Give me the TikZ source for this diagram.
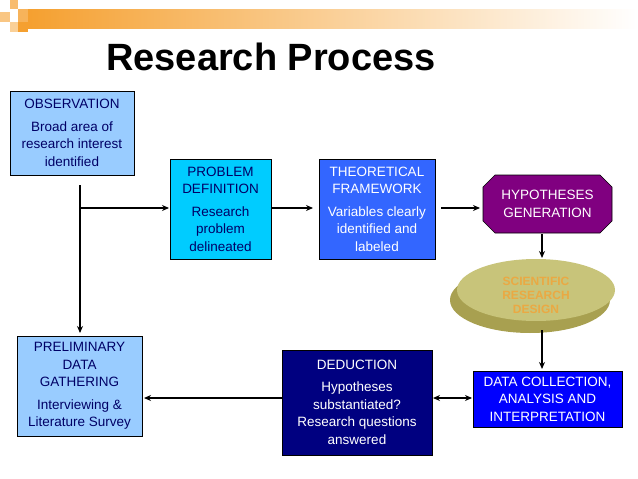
\documentclass[tikz,border=0pt]{standalone}
\usepackage{fontspec}
\setmainfont{Liberation Sans}
\usetikzlibrary{shapes.misc,arrows.meta}
\definecolor{lb}{HTML}{99CCFF}
\definecolor{cy}{HTML}{00CCFF}
\definecolor{tb}{HTML}{3366FF}
\definecolor{pu}{HTML}{800080}
\definecolor{nv}{HTML}{000080}
\definecolor{bl}{HTML}{0000FF}
\definecolor{dk}{HTML}{000066}
\definecolor{og}{HTML}{F5A030}
\definecolor{ol}{HTML}{C8C47A}
\definecolor{old}{HTML}{A8A050}
\begin{document}
\begin{tikzpicture}[x=1pt,y=-1pt,
 box/.style={draw=black,line width=0.6pt},
 txt/.style={align=center,font=\fontsize{13.5}{17.5}\selectfont,inner sep=0pt},
 arr/.style={line width=1.6pt,-{Stealth[length=7pt,width=6pt]}}]
\useasboundingbox (0,0) rectangle (638,479);
\fill[white] (0,0) rectangle (638,479);
% decoration
\shade[left color=og,right color=white] (28,9) rectangle (638,28);
\fill[og!60] (0,12) rectangle (10,22);
\fill[og!70] (10,0) rectangle (18,9);
\fill[og] (18,22) rectangle (28,32);
\fill[og!50] (10,22) rectangle (18,32);
\fill[og!80] (18,9) rectangle (28,22);
\node[font=\fontsize{38}{42}\selectfont\bfseries] (title) at (271,57) {Research Process};
% boxes
\path[box,fill=lb] (10,91) rectangle (134,175);
\node[txt,text=dk] (obs) at (72,133) {OBSERVATION\\[5pt]Broad area of\\research interest\\identified};
\path[box,fill=cy] (170,159) rectangle (271,259);
\node[txt,text=dk] (prob) at (220.5,209) {PROBLEM\\DEFINITION\\[5pt]Research\\problem\\delineated};
\path[box,fill=tb] (319,159) rectangle (435,259);
\node[txt,text=white] (theo) at (377,209) {THEORETICAL\\FRAMEWORK\\[5pt]Variables clearly\\identified and\\labeled};
\draw[fill=pu,line width=0.6pt] (495,175) -- (600,175) -- (612,187) -- (612,221) -- (600,233) -- (495,233) -- (483,221) -- (483,187) -- cycle;
\node[txt,text=white] (hyp) at (547.5,204) {HYPOTHESES\\GENERATION};
% ellipse
\fill[old] (530,300) ellipse (80 and 33);
\fill[ol] (536,290) ellipse (79 and 31);
\node[align=center,text=og!75!ol,font=\fontsize{12}{14}\selectfont\rmfamily\bfseries] (des) at (536,295) {SCIENTIFIC\\RESEARCH\\DESIGN};
\path[box,fill=lb] (17,336) rectangle (142,436);
\node[txt,text=dk] (pre) at (79.5,386) {PRELIMINARY\\DATA\\GATHERING\\[5pt]Interviewing \&\\Literature Survey};
\path[box,fill=nv] (282,350) rectangle (432,455);
\node[txt,text=white] (ded) at (357,402) {DEDUCTION\\[5pt]Hypotheses\\substantiated?\\Research questions\\answered};
\path[box,fill=bl] (473,371) rectangle (622,427);
\node[txt,text=white] (dat) at (547.5,399) {DATA COLLECTION,\\ANALYSIS AND\\INTERPRETATION};
% connectors
\draw[line width=1.6pt] (80,185) -- (80,208);
\draw[arr] (80,185) -- (80,333);
\draw[arr] (80,208) -- (169,208);
\draw[arr] (272,208) -- (313,208);
\draw[arr] (441,208) -- (480,208);
\draw[arr] (542,234) -- (542,258);
\draw[arr] (542,330) -- (542,369);
\draw[line width=1.6pt,{Stealth[length=7pt,width=6pt]}-{Stealth[length=7pt,width=6pt]}] (433,398) -- (472,398);
\draw[arr] (282,398) -- (144,398);
\end{tikzpicture}
\end{document}
